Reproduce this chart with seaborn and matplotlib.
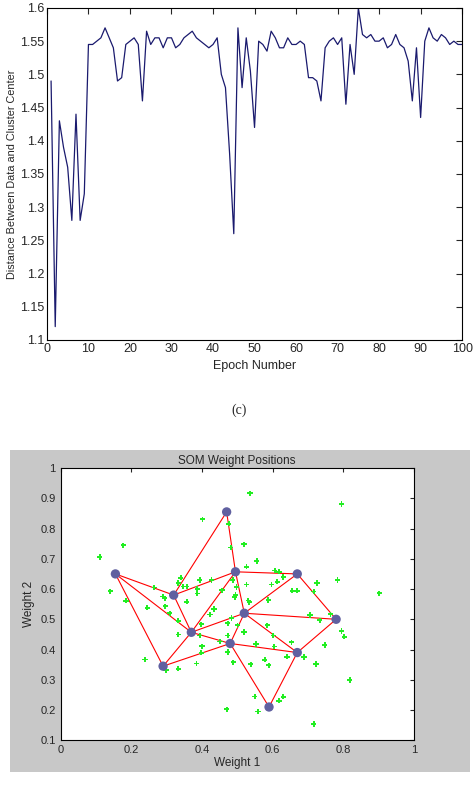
import numpy as np
import pandas as pd
import seaborn as sns
import matplotlib
matplotlib.use('Agg')
import matplotlib.pyplot as plt
from matplotlib.patches import Rectangle

# distance curve (epochs 1..100)
dist = [1.49, 1.12, 1.43, 1.39, 1.36, 1.28, 1.44, 1.28, 1.32, 1.545,
        1.545, 1.55, 1.555, 1.57, 1.555, 1.54, 1.49, 1.495, 1.545, 1.55,
        1.555, 1.545, 1.46, 1.565, 1.545, 1.555, 1.555, 1.54, 1.555, 1.555,
        1.54, 1.545, 1.555, 1.56, 1.565, 1.555, 1.55, 1.545, 1.54, 1.545,
        1.555, 1.5, 1.48, 1.38, 1.26, 1.57, 1.48, 1.555, 1.505, 1.42,
        1.55, 1.545, 1.535, 1.565, 1.555, 1.54, 1.54, 1.555, 1.545, 1.545,
        1.55, 1.545, 1.495, 1.495, 1.49, 1.46, 1.54, 1.55, 1.555, 1.545,
        1.555, 1.455, 1.545, 1.5, 1.6, 1.56, 1.555, 1.56, 1.55, 1.55,
        1.555, 1.54, 1.545, 1.56, 1.545, 1.54, 1.52, 1.46, 1.54, 1.435,
        1.55, 1.57, 1.555, 1.55, 1.56, 1.555, 1.545, 1.55, 1.545, 1.545]
epochs = list(range(1, 101))

# SOM data points
pts_x = [0.111, 0.177, 0.140, 0.185, 0.245, 0.239, 0.265, 0.29, 0.295, 0.296,
         0.309, 0.298, 0.333, 0.333, 0.333, 0.34, 0.347, 0.357, 0.357, 0.333,
         0.387, 0.387, 0.394, 0.402, 0.398, 0.394, 0.4, 0.398, 0.385, 0.423,
         0.427, 0.434, 0.451, 0.457, 0.473, 0.473, 0.473, 0.470, 0.476, 0.482,
         0.487, 0.489, 0.484, 0.493, 0.495, 0.498, 0.501, 0.519, 0.526, 0.526,
         0.531, 0.534, 0.519, 0.536, 0.538, 0.55, 0.553, 0.555, 0.559, 0.578,
         0.585, 0.589, 0.588, 0.597, 0.606, 0.613, 0.618, 0.602, 0.605, 0.618,
         0.63, 0.63, 0.641, 0.654, 0.656, 0.67, 0.689, 0.706, 0.717, 0.717,
         0.726, 0.723, 0.734, 0.748, 0.764, 0.784, 0.795, 0.795, 0.803, 0.819, 0.902]
pts_y = [0.706, 0.745, 0.593, 0.561, 0.538, 0.367, 0.605, 0.575, 0.57, 0.543,
         0.52, 0.332, 0.336, 0.45, 0.62, 0.637, 0.608, 0.608, 0.558, 0.495,
         0.6, 0.585, 0.63, 0.831, 0.484, 0.446, 0.411, 0.389, 0.354, 0.516,
         0.63, 0.534, 0.427, 0.596, 0.487, 0.446, 0.392, 0.203, 0.816, 0.737,
         0.63, 0.358, 0.504, 0.574, 0.58, 0.607, 0.48, 0.748, 0.674, 0.615,
         0.562, 0.556, 0.458, 0.917, 0.351, 0.245, 0.418, 0.693, 0.195, 0.366,
         0.48, 0.348, 0.564, 0.615, 0.661, 0.624, 0.657, 0.446, 0.41, 0.231,
         0.244, 0.64, 0.376, 0.424, 0.594, 0.594, 0.375, 0.514, 0.154, 0.592,
         0.62, 0.352, 0.497, 0.415, 0.517, 0.63, 0.881, 0.461, 0.442, 0.299, 0.586]

# neuron weights
nx = [0.155, 0.32, 0.47, 0.495, 0.67, 0.52, 0.78, 0.37, 0.48, 0.67, 0.29, 0.59]
ny = [0.65, 0.58, 0.855, 0.657, 0.65, 0.52, 0.50, 0.457, 0.42, 0.39, 0.345, 0.21]
links = [(0, 1), (0, 7), (0, 10), (1, 2), (1, 3), (1, 7), (2, 3), (3, 7), (3, 4),
         (3, 5), (4, 5), (4, 6), (5, 6), (5, 7), (5, 8), (5, 9), (6, 9), (7, 8),
         (7, 10), (10, 8), (8, 9), (8, 11), (9, 11)]

sns.set_style('white')
plt.rcParams['font.family'] = ['Liberation Sans', 'DejaVu Sans']

fig = plt.figure(figsize=(4.74, 7.96), dpi=100)
fig.patches.append(Rectangle((0.021, 0.03), 0.97, 0.405, transform=fig.transFigure,
                             facecolor='#c8c8c8', edgecolor='none', zorder=-1))

# top: distance vs epoch
ax1 = fig.add_axes([0.099, 0.573, 0.876, 0.417])
sns.lineplot(x=epochs, y=dist, ax=ax1, color='#1a1a6e', linewidth=0.9)
ax1.set_xlim(0, 100)
ax1.set_ylim(1.1, 1.6)
ax1.set_xticks(range(0, 101, 10))
ax1.set_yticks(np.arange(1.1, 1.61, 0.05))
ax1.set_yticklabels(['1.1', '1.15', '1.2', '1.25', '1.3', '1.35', '1.4', '1.45', '1.5', '1.55', '1.6'])
ax1.tick_params(direction='in', top=True, right=True, length=4, labelsize=9, pad=2)
ax1.set_xlabel('Epoch Number', fontsize=9)
ax1.set_ylabel('Distance Between Data and Cluster Center', fontsize=7.8, labelpad=2)
for s in ax1.spines.values():
    s.set_linewidth(0.8)
    s.set_color('black')
fig.text(0.505, 0.485, '(c)', ha='center', va='center', fontsize=10, family='Liberation Serif')

# bottom: SOM weight positions
ax2 = fig.add_axes([0.128, 0.070, 0.745, 0.342])
for a, b in links:
    sns.lineplot(x=[nx[a], nx[b]], y=[ny[a], ny[b]], ax=ax2, color='red',
                 linewidth=0.8, sort=False, estimator=None)
sns.scatterplot(x=pts_x, y=pts_y, ax=ax2, color='#22ee22', marker='P', s=14,
                edgecolor='none', zorder=3)
sns.scatterplot(x=nx, y=ny, ax=ax2, color='#6060a0', s=45, edgecolor='none', zorder=4)
ax2.set_xlim(0, 1)
ax2.set_ylim(0.1, 1)
ax2.set_xticks([0, 0.2, 0.4, 0.6, 0.8, 1])
ax2.set_xticklabels(['0', '0.2', '0.4', '0.6', '0.8', '1'])
ax2.set_yticks(np.arange(0.1, 1.01, 0.1))
ax2.set_yticklabels(['0.1', '0.2', '0.3', '0.4', '0.5', '0.6', '0.7', '0.8', '0.9', '1'])
ax2.tick_params(direction='in', top=True, right=True, length=3, labelsize=8)
ax2.set_title('SOM Weight Positions', fontsize=8.5, pad=3)
ax2.set_xlabel('Weight 1', fontsize=8.5, labelpad=1)
ax2.set_ylabel('Weight 2', fontsize=8.5)
for s in ax2.spines.values():
    s.set_linewidth(0.8)
    s.set_color('black')

fig.savefig('out.png', dpi=100)
